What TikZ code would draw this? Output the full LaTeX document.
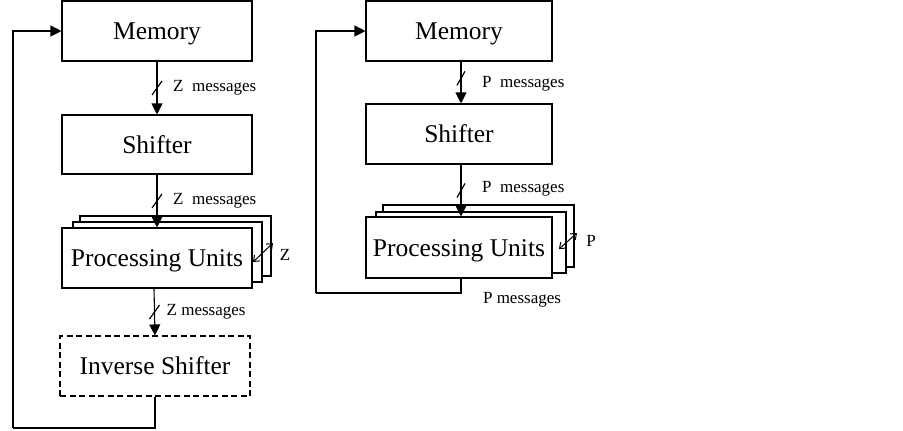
\documentclass[tikz,border=0pt]{standalone}
\usepackage{fontspec}
\setmainfont{Liberation Serif}
\usetikzlibrary{arrows.meta}
\tikzset{
  blk/.style={draw, line width=1.1pt, fill=white, inner sep=0pt, text height=17pt, text depth=0pt, font=\fontsize{25.5}{30}\selectfont},
  lbl/.style={font=\fontsize{17}{20}\selectfont, inner sep=0pt},
  arr/.style={line width=1.1pt, -{Triangle[length=11pt,width=11pt]}},
  fb/.style={line width=1.1pt},
  dbl/.style={line width=1pt, {Straight Barb[length=5pt,width=8pt]}-{Straight Barb[length=5pt,width=8pt]}},
  slash/.style={line width=1.2pt}
}
\begin{document}
\begin{tikzpicture}[x=1pt,y=-1pt]
\useasboundingbox (0,0) rectangle (903,431);
% left column
\node[blk, minimum width=190pt, minimum height=60pt] (lmem) at (157,31) {Memory};
\node[blk, minimum width=190pt, minimum height=59pt] (lshift) at (157,144.5) {Shifter};
\node[blk, minimum width=191pt, minimum height=60pt] (lpu3) at (175.5,246) {};
\node[blk, minimum width=189pt, minimum height=60pt] (lpu2) at (167.5,252) {};
\node[blk, minimum width=190pt, minimum height=60pt] (lpu) at (157,258) {Processing Units};
\node[blk, dash pattern=on 6pt off 3.5pt, minimum width=190pt, minimum height=60pt] (linv) at (155,366) {Inverse Shifter};

\draw[arr] (lmem) -- coordinate[pos=0.5] (ls1) (lshift);
\draw[slash] ([shift={(-5,7)}]ls1) -- ([shift={(5,-7)}]ls1);
\node[lbl, anchor=west] (ll1) at ([xshift=16pt]ls1) {Z\ \ messages};

\draw[arr] (lshift) -- coordinate[pos=0.5] (ls2) (lpu);
\draw[slash] ([shift={(-5,7)}]ls2) -- ([shift={(5,-7)}]ls2);
\node[lbl, anchor=west] (ll2) at ([xshift=16pt]ls2) {Z\ \ messages};

\draw[arr] ([xshift=-3pt]lpu.south) -- coordinate[pos=0.5] (ls3) (linv.north);
\draw[slash] ([shift={(-5,7)}]ls3) -- ([shift={(5,-7)}]ls3);
\node[lbl, anchor=west] (ll3) at ([xshift=12pt]ls3) {Z messages};

\coordinate (lfb) at (13,428);
\draw[fb] (linv.south) |- (lfb);
\draw[arr] (lfb) |- (lmem.west);

\coordinate (ld1) at (253,262);
\coordinate (ld2) at (273,243);
\draw[dbl] (ld1) -- (ld2);
\node[lbl] (lz) at (285,255) {Z};

% right column
\node[blk, minimum width=186pt, minimum height=60pt] (rmem) at (459,31) {Memory};
\node[blk, minimum width=186pt, minimum height=60pt] (rshift) at (459,134) {Shifter};
\node[blk, minimum width=191pt, minimum height=62pt] (rpu3) at (478.5,236) {};
\node[blk, minimum width=190pt, minimum height=61pt] (rpu2) at (471,242.5) {};
\node[blk, minimum width=186pt, minimum height=61pt] (rpu) at (459,247.5) {Processing Units};

\draw[arr] ([xshift=2pt]rmem.south) -- coordinate[pos=0.4] (rs1) ([xshift=2pt]rshift.north);
\draw[slash] ([shift={(-4,7)}]rs1) -- ([shift={(4,-7)}]rs1);
\node[lbl, anchor=west] (rl1) at ([shift={(21,5)}]rs1) {P\ \ messages};

\draw[arr] ([xshift=2pt]rshift.south) -- coordinate[pos=0.5] (rs2) ([xshift=2pt]rpu.north);
\draw[slash] ([shift={(-4,7)}]rs2) -- ([shift={(4,-7)}]rs2);
\node[lbl, anchor=west] (rl2) at ([shift={(21,-2)}]rs2) {P\ \ messages};

\coordinate (rfb) at (316,293);
\draw[fb] ([xshift=2pt]rpu.south) |- (rfb);
\draw[arr] (rfb) |- (rmem.west);
\node[lbl] (rl3) at (522,300) {P messages};

\coordinate (rd1) at (559,249);
\coordinate (rd2) at (577,233);
\draw[dbl] (rd1) -- (rd2);
\node[lbl] (rp) at (591,241) {P};
\end{tikzpicture}
\end{document}
